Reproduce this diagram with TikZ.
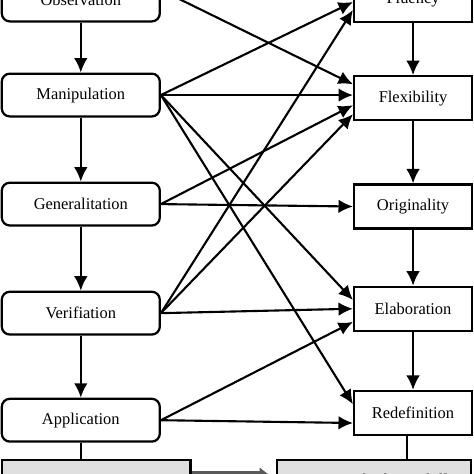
\documentclass[tikz,border=0pt]{standalone}
\usepackage{fontspec}
\setmainfont{Liberation Serif}
\usetikzlibrary{arrows.meta,positioning}
\tikzstyle{stage} = [rectangle, draw, line width=1.6pt, rounded corners=0.2cm, minimum width=3.95cm, minimum height=1.07cm, align=center, font=\fontsize{11.7}{14}\selectfont]
\tikzstyle{skill} = [rectangle, draw, line width=1.6pt, minimum width=2.95cm, minimum height=1.1cm, align=center, font=\fontsize{11.7}{14}\selectfont]
\tikzstyle{outcome} = [rectangle, draw, line width=1.6pt, fill=gray!25, minimum height=1.1cm, align=center, font=\fontsize{11.7}{14}\selectfont]
\tikzstyle{line} = [draw, line width=1.5pt, -{Latex[length=3.6mm,width=3.4mm]}]
\tikzstyle{link} = [draw, line width=1.5pt]
\tikzstyle{bigline} = [draw, line width=0.32cm, gray!70!black, -{Latex[length=0.4cm,width=0.55cm]}]
\begin{document}
\begin{tikzpicture}
    \useasboundingbox (0,0) rectangle (11.85,-11.85);
    % abstraction stages
    \node [stage] (obs) at (2.02,0) {Observation};
    \node [stage, below=1.25cm of obs] (manip) {Manipulation};
    \node [stage, below=1.6cm of manip] (gen) {Generalitation};
    \node [stage, below=1.6cm of gen] (ver) {Verifiation};
    \node [stage, below=1.55cm of ver] (app) {Application};
    % creative thinking indicators
    \node [skill, right=4.8cm of obs] (flu) {Fluency};
    \node [skill, below=1.3cm of flu] (flex) {Flexibility};
    \node [skill, below=1.55cm of flex] (orig) {Originality};
    \node [skill, below=1.4cm of orig] (elab) {Elaboration};
    \node [skill, below=1.45cm of elab] (redef) {Redefinition};
    % bottom boxes
    \node [outcome, minimum width=4.72cm, below=0.4cm of app.south west, anchor=north west] (abs) {Mathematical Abstraction};
    \node [outcome, minimum width=4.85cm, right=2.1cm of abs] (cts) {Creative Thinking Skills};
    \coordinate[above=0.25cm of obs.east] (obsc);
    \coordinate[below=0.05cm of flu.west] (flua);
    \coordinate[below=0.25cm of flu.west] (flub);
    \coordinate[above=0.35cm of flex.west] (flexa);
    \coordinate[above=0.075cm of flex.west] (flexb);
    \coordinate[below=0.175cm of flex.west] (flexc);
    \coordinate[below=0.4cm of flex.west] (flexd);
    \coordinate[above=0.22cm of elab.west] (elaba);
    \coordinate[below=0.33cm of elab.west] (elabc);
    \coordinate[above=0.22cm of redef.west] (redefa);
    \coordinate[below=0.25cm of redef.west] (redefb);
    \coordinate[left=0.15cm of redef.south] (redefc);
    \coordinate[above=0.1cm of abs.east] (absc);
    % down the columns
    \path [line] (obs) -- (manip);
    \path [line] (manip) -- (gen);
    \path [line] (gen) -- (ver);
    \path [line] (ver) -- (app);
    \path [line] (flu) -- (flex);
    \path [line] (flex) -- (orig);
    \path [line] (orig) -- (elab);
    \path [line] (elab) -- (redef);
    % across
    \path [line] (obsc) -- (flexa);
    \path [line] (manip.east) -- (flua);
    \path [line] (manip.east) -- (manip.east -| flexb);
    \path [line] (manip.east) -- (elaba);
    \path [line] (manip.east) -- (redefa);
    \path [line] (gen.east) -- (flexc);
    \path [line] (gen.east) -- (orig.west);
    \path [line] (ver.east) -- (flub);
    \path [line] (ver.east) -- (flexd);
    \path [line] (ver.east) -- (elab.west);
    \path [line] (app.east) -- (elabc);
    \path [line] (app.east) -- (redefb);
    % to the bottom boxes
    \path [link] (app.south) -- (app.south |- abs.north);
    \path [link] (redefc) -- (redefc |- cts.north);
    \path [bigline] (absc) -- (absc -| cts.west);
\end{tikzpicture}
\end{document}
